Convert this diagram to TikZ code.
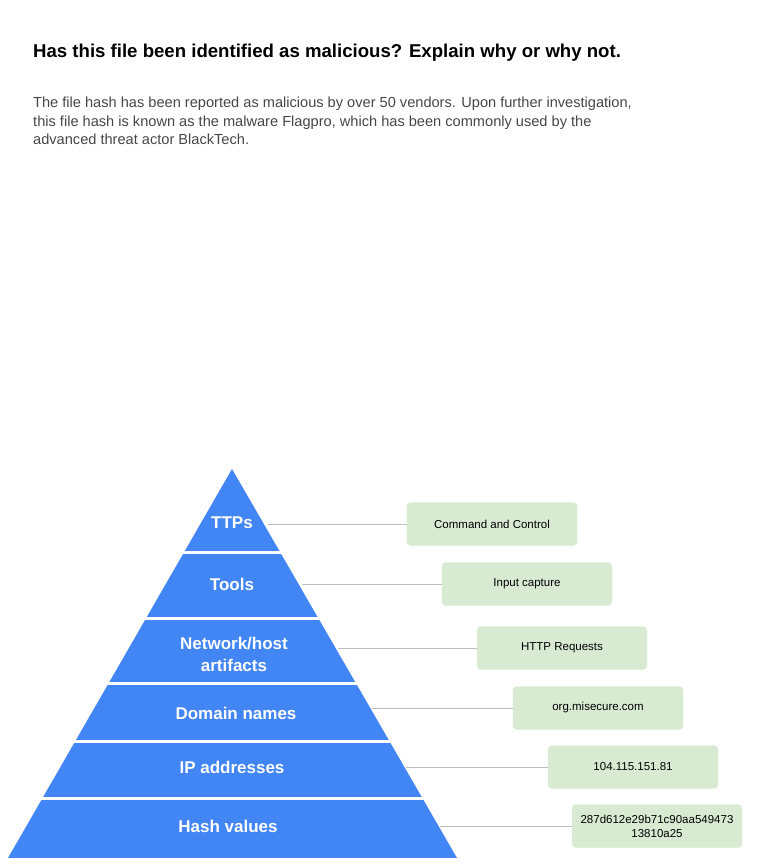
\documentclass[tikz,border=0pt]{standalone}
\usepackage{fontspec}
\setmainfont{Liberation Sans}
\begin{document}
\begin{tikzpicture}[x=1pt,y=-1pt,
  box/.style={rounded corners=4pt,fill={rgb,255:red,217;green,234;blue,211},draw={rgb,255:red,217;green,234;blue,211},minimum width=170pt,minimum height=43pt,align=center,font=\fontsize{11.5}{14}\selectfont},
  lvl/.style={text=white,font=\bfseries\fontsize{17}{22}\selectfont,align=center},
  conn/.style={draw={rgb,255:red,190;green,190;blue,190},line width=0.8pt}]
\useasboundingbox (0,0) rectangle (768,866);
\definecolor{pblue}{RGB}{66,133,244}
\node[anchor=west,inner sep=0pt,font=\bfseries\fontsize{18.6}{22}\selectfont] (title) at (33,53) {Has this file been identified as malicious? Explain why or why not.};
\node[anchor=north west,align=left,text={rgb,255:red,70;green,70;blue,70},font=\fontsize{14.6}{18.5}\selectfont,inner sep=0pt] (body) at (33,97) {The file hash has been reported as malicious by over 50 vendors. Upon further investigation,\\this file hash is known as the malware Flagpro, which has been commonly used by the\\advanced threat actor BlackTech.};
\fill[pblue] (232,469) -- (457,858) -- (8,858) -- cycle;
\foreach \yy in {552,618,683,741,798}
  \draw[white,line width=3pt] (0,\yy) -- (500,\yy);
\fill[white] (0,858) rectangle (500,866);
\node[lvl] (l1) at (232,523) {TTPs};
\node[lvl] (l2) at (232,584) {Tools};
\node[lvl] (l3) at (234,654) {Network/host\\artifacts};
\node[lvl] (l4) at (236,713) {Domain names};
\node[lvl] (l5) at (232,767) {IP addresses};
\node[lvl] (l6) at (228,826) {Hash values};
\node[box] (b1) at (492,524) {Command and Control};
\node[box] (b2) at (527,584) {Input capture};
\node[box] (b3) at (562,648) {HTTP Requests};
\node[box] (b4) at (598,708) {org.misecure.com};
\node[box] (b5) at (633,767) {104.115.151.81};
\node[box] (b6) at (657,826) {287d612e29b71c90aa549473\\13810a25};
\coordinate (e1) at (268,524);
\coordinate (e2) at (302,584);
\coordinate (e3) at (338,648);
\coordinate (e4) at (372,708);
\coordinate (e5) at (406,767);
\coordinate (e6) at (440,826);
\foreach \i in {1,...,6} \draw[conn] (e\i) -- (b\i.west);
\end{tikzpicture}
\end{document}
